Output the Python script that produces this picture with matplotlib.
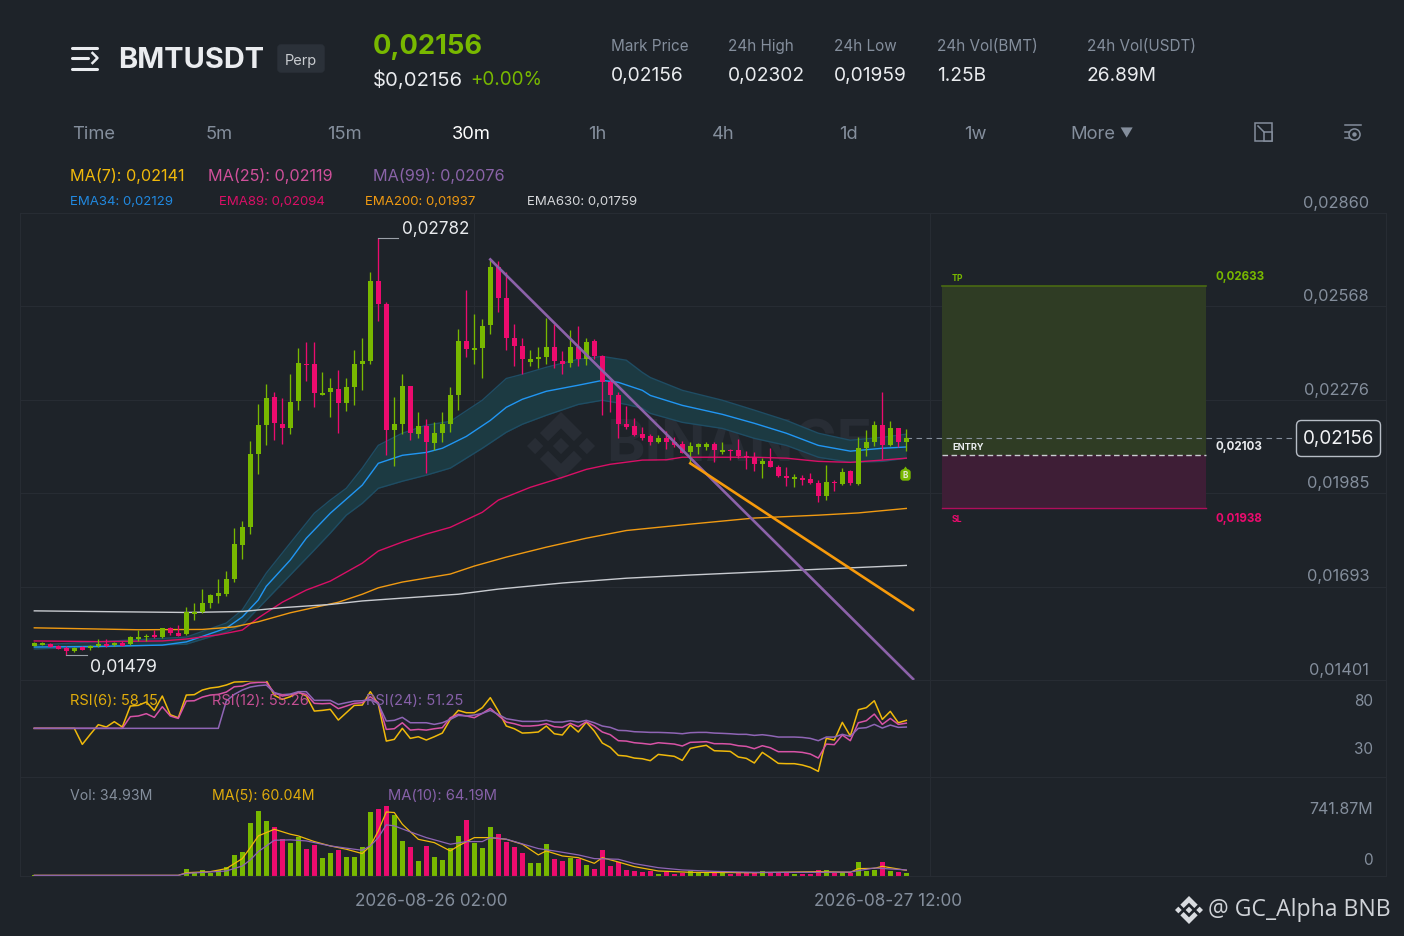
import matplotlib
matplotlib.use('Agg')
import matplotlib.pyplot as plt
import numpy as np
from matplotlib.patches import FancyBboxPatch, Polygon, Rectangle

plt.rcParams['font.family'] = ['Inter', 'DejaVu Sans']

# candles, in units of 0.00001
opens = [1508,1511,1514,1506,1502,1491,1503,1500,1507,1514,
         1509,1516,1512,1529,1534,1541,1535,1563,1549,1545,
         1608,1614,1643,1664,1671,1718,1824,1879,2108,2197,
         2284,2201,2189,2273,2389,2389,2291,2300,2311,2266,
         2315,2389,2399,2649,2577,2181,2200,2319,2169,2195,
         2141,2172,2200,2290,2461,2431,2439,2509,2690,2593,
         2471,2443,2396,2404,2409,2441,2399,2391,2441,2405,
         2459,2412,2332,2290,2200,2195,2169,2163,2143,2158,
         2146,2137,2113,2129,2129,2138,2113,2121,2119,2100,
         2097,2076,2085,2068,2038,2028,2033,2030,2016,1975,
         2021,2013,2055,2014,2125,2143,2197,2134,2187,2143]
closes = [1516,1518,1505,1499,1492,1501,1496,1507,1514,1507,
          1518,1508,1535,1535,1540,1534,1562,1547,1540,1612,
          1615,1641,1666,1674,1718,1825,1878,2107,2197,2283,
          2203,2189,2271,2390,2384,2298,2299,2312,2266,2315,
          2389,2399,2649,2577,2181,2200,2320,2172,2195,2143,
          2172,2200,2290,2459,2434,2437,2508,2690,2594,2471,
          2444,2403,2403,2409,2441,2399,2389,2440,2405,2458,
          2412,2332,2290,2200,2192,2165,2158,2143,2157,2146,
          2134,2111,2132,2137,2137,2121,2120,2116,2100,2094,
          2076,2084,2067,2038,2031,2034,2027,2016,1976,2021,
          2015,2052,2015,2125,2143,2197,2134,2187,2144,2156]
highs = [1520,1521,1517,1509,1507,1505,1506,1511,1528,1528,
         1521,1523,1539,1558,1544,1558,1564,1567,1572,1630,
         1642,1684,1669,1715,1743,1876,1898,2147,2263,2327,
         2301,2282,2358,2439,2456,2456,2362,2343,2369,2345,
         2432,2471,2675,2782,2582,2285,2358,2321,2237,2215,
         2206,2237,2317,2497,2620,2543,2530,2714,2711,2675,
         2514,2471,2431,2440,2533,2514,2429,2495,2506,2470,
         2465,2415,2337,2301,2256,2218,2190,2171,2166,2179,
         2160,2148,2144,2142,2146,2145,2145,2124,2154,2117,
         2112,2094,2125,2074,2067,2044,2041,2047,2025,2072,
         2026,2064,2057,2159,2181,2211,2300,2209,2188,2186]
lows = [1507,1509,1503,1497,1479,1488,1494,1496,1505,1505,
        1507,1506,1510,1523,1523,1533,1533,1541,1539,1541,
        1590,1611,1627,1642,1663,1708,1778,1856,2044,2134,
        2151,2137,2169,2243,2335,2254,2290,2223,2173,2241,
        2259,2306,2389,2524,2103,2069,2171,2150,2158,2049,
        2119,2143,2176,2243,2409,2387,2343,2482,2550,2431,
        2381,2357,2382,2375,2387,2377,2357,2378,2383,2384,
        2405,2228,2238,2156,2186,2162,2152,2134,2141,2123,
        2129,2109,2077,2106,2121,2081,2106,2088,2096,2059,
        2053,2032,2065,2035,2007,2004,2010,2014,1957,1963,
        1991,2009,2011,2011,2102,2133,2090,2131,2129,2116]

# moving averages, read at the candles named in the *_idx lists
ema34_idx = [0,8,16,19,24,26,28,29,32,34,37,39,41,43,46,49,51,54,57,59,61,64,68,71,73,76,77,81,86,90,94,98,102,106,109]
ema34 = [1504,1506,1510,1520,1563,1598,1651,1694,1776,1844,1922,1966,2010,2078,2103,2112,2125,2162,2212,2253,2278,2303,2322,2337,2331,2306,2290,2259,2231,2203,2172,2134,2116,2125,2129]
band_idx = [0,19,24,26,29,32,35,37,39,41,43,46,49,52,56,59,61,64,68,71,74,76,77,81,86,90,94,98,102,106,109]
band_upper = [1510,1535,1579,1620,1735,1829,1922,1963,2000,2063,2134,2172,2197,2209,2275,2343,2356,2378,2403,2412,2400,2362,2346,2306,2275,2244,2212,2172,2150,2159,2169]
band_lower = [1498,1513,1551,1573,1651,1729,1807,1860,1916,1953,2000,2022,2041,2063,2125,2175,2200,2228,2262,2275,2262,2250,2234,2206,2187,2156,2134,2097,2081,2084,2094]
ema89_idx = [0,8,16,19,23,26,28,31,34,37,39,41,43,46,49,52,56,58,62,66,69,72,76,79,81,84,88,90,94,98,102,106,109]
ema89 = [1523,1521,1523,1529,1542,1557,1595,1644,1682,1710,1738,1766,1804,1832,1857,1878,1925,1963,2003,2034,2059,2075,2088,2089,2097,2097,2097,2097,2094,2084,2081,2088,2094]
ema200_idx = [0,13,21,25,28,32,38,41,43,46,52,55,59,64,69,74,82,90,98,103,109]
ema200 = [1564,1558,1559,1567,1583,1611,1644,1669,1689,1707,1732,1757,1785,1816,1844,1868,1888,1907,1916,1923,1937]
ema630_idx = [0,11,19,26,31,37,41,53,58,66,74,82,90,98,109]
ema630 = [1617,1614,1612,1615,1627,1637,1648,1669,1685,1704,1719,1729,1738,1747,1759]

# drawn on the chart: (candle, price) ends
trend_purple_x = [57, 109.85]
trend_purple_y = [2715, 1404]
trend_orange_x = [82, 109.85]
trend_orange_y = [2078, 1620]

tp_price, entry_price, sl_price = 2633, 2103, 1938
last_price = 2156
box_x = [113.5, 146.5]

price_ticks = [2860, 2568, 2276, 1985, 1693, 1401]
price_labels = ['0,02860', '0,02568', '0,02276', '0,01985', '0,01693', '0,01401']

rsi6 = [49.9,49.9,49.9,49.9,49.9,49.9,33.3,43.7,53.7,51.3,56.8,51.3,73.0,73.7,77.2,68.5,83.4,64.0,60.9,84.4,
        84.8,89.6,91.7,92.7,94.8,97.9,98.2,99.3,99.6,99.6,84.1,79.9,82.7,87.5,83.4,67.8,68.5,69.6,58.5,66.1,
        73.7,74.0,87.9,74.7,36.7,38.5,49.9,39.5,41.2,37.8,41.2,45.0,59.2,68.5,66.1,66.1,71.3,81.7,67.8,52.3,
        49.5,45.0,45.4,46.1,52.3,44.3,43.0,53.3,46.1,56.4,47.1,34.7,30.2,21.9,21.2,19.1,18.4,16.4,22.9,21.9,
        20.9,16.7,29.1,30.9,32.3,26.7,26.4,26.0,20.2,18.8,14.0,25.0,19.5,13.6,13.3,13.3,11.9,9.5,5.3,39.5,
        37.8,56.1,41.9,69.2,71.3,78.5,59.2,67.5,55.7,58.15]
rsi12 = [49.9,49.9,49.9,49.9,49.9,49.9,49.9,49.9,49.9,49.9,49.9,49.9,62.0,62.7,65.1,61.3,72.3,62.7,60.2,78.2,
         78.5,82.3,84.4,85.1,87.5,93.0,93.7,96.8,97.5,97.5,86.8,83.4,84.8,86.8,85.1,75.8,75.4,75.8,70.3,73.0,
         75.8,76.5,82.7,76.5,48.8,49.5,55.7,48.1,48.8,48.1,49.5,50.6,60.9,64.4,62.7,60.9,65.4,70.6,63.3,56.4,
         54.7,52.3,52.3,53.0,54.7,51.6,50.9,55.1,51.6,56.8,52.3,46.1,43.3,37.1,36.7,35.0,34.3,33.3,35.0,34.3,
         33.6,31.6,35.4,35.7,36.1,34.0,34.0,33.6,31.9,31.2,28.8,31.9,29.8,25.7,25.7,25.7,25.0,23.3,19.1,33.6,
         33.0,43.0,37.1,55.7,57.8,64.7,54.0,60.2,54.0,55.26]
rsi24 = [49.9,49.9,49.9,49.9,49.9,49.9,49.9,49.9,49.9,49.9,49.9,49.9,49.9,49.9,49.9,49.9,49.9,49.9,49.9,49.9,
         49.9,49.9,49.9,49.9,78.2,85.1,89.6,92.7,94.1,94.8,86.8,84.8,85.4,87.9,87.9,78.9,78.9,78.9,74.7,76.5,
         78.2,78.5,79.9,75.4,57.5,58.2,61.3,55.7,55.7,55.7,54.0,55.7,59.2,63.3,62.7,63.7,65.4,68.5,64.4,59.9,
         58.5,57.1,57.1,57.1,58.2,56.4,56.4,57.8,56.4,58.2,55.7,52.3,50.9,47.8,47.5,46.4,46.1,45.7,45.7,45.4,
         45.0,44.3,45.4,45.7,45.7,45.0,44.7,44.3,43.7,43.7,42.6,43.3,42.3,40.9,40.9,40.9,40.5,39.5,37.1,40.9,
         40.9,43.7,41.6,49.9,50.6,54.0,50.2,53.3,50.9,51.25]

# volume in millions
volumes = [11,7,5,6,7,5,4,6,8,7,6,5,9,6,6,7,8,6,5,
           71,35,60,28,64,95,219,258,565,692,579,519,396,353,417,283,329,191,244,272,198,198,311,678,707,742,
           643,367,307,159,314,201,170,300,424,594,346,293,519,442,364,304,244,134,141,343,184,159,194,184,113,
           71,279,106,152,64,49,46,53,21,46,18,32,49,35,32,42,35,25,28,28,35,53,35,32,39,25,18,18,67,60,35,42,
           35,145,57,67,148,53,46,34.93]
vol_ma5_idx = [0,18,19,22,24,26,27,28,30,32,33,35,37,39,41,42,43,44,45,46,48,50,52,53,55,57,59,61,63,64,66,68,70,71,73,75,78,82,90,98,102,103,105,106,109]
vol_ma5 = [7,7,35,46,78,184,300,424,494,442,424,364,318,283,237,318,477,677,671,548,388,353,265,318,406,406,388,336,223,265,212,194,134,194,148,99,53,39,35,46,39,78,81,102,60.04]
vol_ma10_idx = [0,18,19,24,26,27,28,30,32,34,37,40,41,42,43,44,45,47,49,52,54,56,57,59,63,65,68,70,73,75,78,81,85,90,98,102,105,109]
vol_ma10 = [7,7,28,53,106,170,258,378,382,371,318,283,272,318,406,541,530,466,406,336,364,364,406,389,290,265,223,184,177,131,88,64,49,39,39,42,85,64.19]

BG = '#1e2329'
GRID = '#272c33'
GREEN = '#78b800'
RED = '#ec0b6e'
GREY = '#848e9c'
LIGHT = '#eaecef'

W, H = 1404, 936
fig = plt.figure(figsize=(W / 100, H / 100), dpi=100, facecolor=BG)


def add_px_axes(left, top, right, bottom):
    return fig.add_axes([left / W, 1 - bottom / H, (right - left) / W, (bottom - top) / H])


# pixel overlays: one under the chart for the watermark, one on top for the page text
under = fig.add_axes([0, 0, 1, 1], zorder=0)
over = fig.add_axes([0, 0, 1, 1], zorder=5)
for a in (under, over):
    a.set_xlim(0, W)
    a.set_ylim(H, 0)
    a.axis('off')
    a.patch.set_alpha(0)


def binance_logo(a, cx, cy, r, color):
    top = np.array([(0,-1),(.62,-.38),(.38,-.14),(0,-.52),(-.38,-.14),(-.62,-.38)])
    small = np.array([(0,-.24),(.24,0),(0,.24),(-.24,0)])
    for pts in (top, top * [1, -1], small, small + [.76, 0], small + [-.76, 0]):
        a.add_patch(Polygon(pts * r + [cx, cy], closed=True, fc=color, ec='none'))


binance_logo(under, 561, 446, 34, '#282d35')
under.text(606, 447, 'BINANCE', color='#282d35', fontsize=42, fontweight='bold', va='center', ha='left')

xlim = (-1.7875, 168.96)
x = np.arange(len(opens))
o = np.array(opens) / 1e5
c = np.array(closes) / 1e5
hi = np.array(highs) / 1e5
lo = np.array(lows) / 1e5
colors = [GREEN if cc >= oo else RED for oo, cc in zip(o, c)]

ax = add_px_axes(20, 213, 1386, 680)
rsi_ax = add_px_axes(20, 680, 1386, 776.5)
vol_ax = add_px_axes(20, 776.5, 1386, 876)
for a in (ax, rsi_ax, vol_ax):
    a.set_zorder(2)
    a.patch.set_alpha(0)
    a.set_xlim(*xlim)
    a.set_xticks([55, 112])
    a.grid(True, color=GRID, lw=0.8)
    a.set_axisbelow(True)
    a.tick_params(length=0, labelbottom=False, labelleft=False)
    for s in a.spines.values():
        s.set_color(GRID)
        s.set_linewidth(0.8)

# main price panel
ax.set_ylim(1401 / 1e5, 2860 / 1e5)
ax.set_yticks(np.array(price_ticks) / 1e5)
for p, lab in zip(price_ticks, price_labels):
    ax.annotate(lab, xy=(1, p / 1e5), xycoords=('axes fraction', 'data'), xytext=(-12.2, 7),
                textcoords='offset points', ha='right', va='center', color=GREY, fontsize=11.8,
                annotation_clip=False)

ax.add_patch(Rectangle((box_x[0], entry_price / 1e5), box_x[1] - box_x[0], (tp_price - entry_price) / 1e5,
                       fc='#2f3c24', ec='none', zorder=1))
ax.add_patch(Rectangle((box_x[0], sl_price / 1e5), box_x[1] - box_x[0], (entry_price - sl_price) / 1e5,
                       fc='#3e1e36', ec='none', zorder=1))
ax.plot(box_x, [tp_price / 1e5] * 2, color='#4a6a12', lw=1.2, zorder=2)
ax.plot(box_x, [sl_price / 1e5] * 2, color='#b00e5c', lw=1.0, zorder=2)
ax.plot(box_x, [entry_price / 1e5] * 2, color='#c9ccd0', lw=1.0, ls=(0, (4, 2.5)), zorder=2)
ax.plot([109, 157.5], [last_price / 1e5] * 2, color='#848e9c', lw=0.8, ls=(0, (5, 4)), zorder=2)

ax.fill_between(band_idx, np.array(band_lower) / 1e5, np.array(band_upper) / 1e5, color='#1c3a42', lw=0, zorder=2)
ax.plot(band_idx, np.array(band_upper) / 1e5, color='#1f4d64', lw=1.0, zorder=2)
ax.plot(band_idx, np.array(band_lower) / 1e5, color='#1f4d64', lw=1.0, zorder=2)
ax.plot(ema34_idx, np.array(ema34) / 1e5, color='#2196f3', lw=1.0, zorder=3)
ax.plot(ema89_idx, np.array(ema89) / 1e5, color='#d90f66', lw=1.0, zorder=3)
ax.plot(ema200_idx, np.array(ema200) / 1e5, color='#f09a12', lw=1.0, zorder=3)
ax.plot(ema630_idx, np.array(ema630) / 1e5, color='#c8cbd0', lw=1.0, zorder=3)

ax.vlines(x, lo, hi, colors=colors, lw=0.95, zorder=4)
body_h = np.maximum(np.abs(c - o), 0.00003)
ax.bar(x, body_h, bottom=np.minimum(o, c), width=0.62, color=colors, lw=0, zorder=4)

ax.plot(trend_purple_x, np.array(trend_purple_y) / 1e5, color='#8c62a9', lw=1.9, zorder=5)
ax.plot(trend_orange_x, np.array(trend_orange_y) / 1e5, color='#f79a0b', lw=1.9, zorder=5)

# RSI panel
rsi_ax.set_ylim(0, 100)
rsi_ax.set_yticks([])
rsi_ax.plot(x, rsi6, color='#f0b90b', lw=1.1)
rsi_ax.plot(x, rsi12, color='#d853a6', lw=1.1)
rsi_ax.plot(x, rsi24, color='#8f65b5', lw=1.1)

# volume panel
vol_ax.set_ylim(0, 1052)
vol_ax.set_yticks([])
vol_ax.bar(x, volumes, width=0.62, color=colors, lw=0)
vol_ax.plot(vol_ma5_idx, vol_ma5, color='#f0b90b', lw=0.9)
vol_ax.plot(vol_ma10_idx, vol_ma10, color='#8f65b5', lw=0.9)


def t(px, py, s, color=LIGHT, size=12, weight='normal', ha='left', family=None):
    kw = {'family': family} if family else {}
    over.text(px, py + 1.8, s, color=color, fontsize=size, fontweight=weight, ha=ha, va='center', **kw)


# header
for yy, x1 in ((48, 97), (58, 88), (69, 97)):
    over.plot([72, x1], [yy, yy], color=LIGHT, lw=2.2, solid_capstyle='round')
over.plot([92.5, 97.5, 92.5], [53, 58, 63], color=LIGHT, lw=1.8)
t(118, 59, 'BMTUSDT', size=20.9, weight='bold')
over.add_patch(FancyBboxPatch((278, 45), 46, 27, boxstyle='round,pad=0,rounding_size=3', fc='#2b3139', ec='#2b3139', lw=1))
t(301, 59, 'Perp', size=10.5, ha='center', color='#c9ccd0')
t(373, 45, '0,02156', color=GREEN, size=19.7, weight='bold')
t(373, 78, '$0,02156', size=14.6)
t(470.5, 78, '+0.00%', color=GREEN, size=13.6)

stat_x = [611, 728, 834, 937, 1087]
stat_names = ['Mark Price', '24h High', '24h Low', '24h Vol(BMT)', '24h Vol(USDT)']
stat_vals = ['0,02156', '0,02302', '0,01959', '1.25B', '26.89M']
for sx, sn, sv in zip(stat_x, stat_names, stat_vals):
    t(sx, 45, sn, color=GREY, size=11.0)
    t(sx, 74, sv, size=13.8)

tf_x = [72, 206, 327, 452, 588, 712, 839, 964, 1070]
tf_names = ['Time', '5m', '15m', '30m', '1h', '4h', '1d', '1w', 'More']
for tx, tn in zip(tf_x, tf_names):
    t(tx, 133, tn, color='#ffffff' if tn == '30m' else GREY, size=13.2)
t(1119, 133, '▼', color=GREY, size=9.5)

# toolbar icons
over.add_patch(Rectangle((1255, 123), 17, 18, fc='none', ec=GREY, lw=1.1))
over.add_patch(Rectangle((1264, 132), 8, 9, fc=BG, ec=GREY, lw=1.1))
over.plot([1258, 1264], [126, 132], color=GREY, lw=1.1)
over.plot([1345, 1361], [125, 125], color=GREY, lw=1.1)
over.plot([1345, 1350], [132, 132], color=GREY, lw=1.1)
over.plot([1345, 1350], [138, 138], color=GREY, lw=1.1)
over.plot([1354], [134], 'o', ms=8, mfc=BG, mec=GREY, mew=1.1)
over.plot([1354], [134], 'o', ms=2.2, color=GREY)

# indicator legends
legend1 = [(70, 'MA(7): 0,02141', '#f0b90b'), (208, 'MA(25): 0,02119', '#d0509a'), (373, 'MA(99): 0,02076', '#8a63a8')]
for lx, s, col in legend1:
    t(lx, 174, s, color=col, size=11.7)
legend2 = [(70, 'EMA34: 0,02129', '#2189e0'), (219, 'EMA89: 0,02094', '#d90f66'),
           (365, 'EMA200: 0,01937', '#f09a12'), (527, 'EMA630: 0,01759', '#d5d7da')]
for lx, s, col in legend2:
    t(lx, 200, s, color=col, size=9.5)

# high and low markers
over.plot([378, 398], [238, 238], color='#9aa0a8', lw=0.8)
t(402, 228, '0,02782', size=12.3)
over.plot([66, 87], [655, 655], color='#9aa0a8', lw=0.8)
t(90, 666, '0,01479', size=12.8)

# position box labels
t(952, 277, 'TP', color=GREEN, size=6.2, weight='bold')
t(1215, 275, '0,02633', color=GREEN, size=8.3, weight='bold')
t(952, 446, 'ENTRY', color=LIGHT, size=6.6, weight='bold')
t(1215, 445, '0,02103', color=LIGHT, size=8.3, weight='bold')
t(952, 518, 'SL', color=RED, size=6.2, weight='bold')
t(1215, 517, '0,01938', color=RED, size=8.3, weight='bold')

# buy marker
over.add_patch(FancyBboxPatch((901, 470), 9, 10, boxstyle='round,pad=0,rounding_size=2.5', fc=GREEN, ec=GREEN, lw=1))
over.add_patch(Polygon([(903, 470), (908, 470), (905.5, 466.5)], closed=True, fc=GREEN, ec='none'))
t(905.5, 474, 'B', color='#dfe8c8', size=6, weight='bold', ha='center')

# last price tag
over.add_patch(FancyBboxPatch((1296.5, 420.5), 84, 36, boxstyle='round,pad=0,rounding_size=5', fc=BG, ec='#b7bdc6', lw=1))
t(1338.5, 437, '0,02156', size=13.6, ha='center', color='#f2f3f5')

# lower panels text
t(70, 699, 'RSI(6): 58.15', color='#e0ac0c', size=10.6)
t(212, 699, 'RSI(12): 55.26', color='#c44f93', size=10.6)
t(366, 699, 'RSI(24): 51.25', color='#8660a8', size=10.6)
t(1373, 700, '80', color=GREY, size=11, ha='right')
t(1373, 748, '30', color=GREY, size=11, ha='right')
t(70, 794, 'Vol: 34.93M', color=GREY, size=10.2)
t(212, 794, 'MA(5): 60.04M', color='#e0ac0c', size=10.2)
t(388, 794, 'MA(10): 64.19M', color='#8660a8', size=10.6)
t(1373, 808, '741.87M', color=GREY, size=11.5, ha='right')
t(1373, 859, '0', color=GREY, size=11, ha='right')

t(431, 900, '2026-08-26 02:00', color=GREY, size=12.3, ha='center')
t(888, 900, '2026-08-27 12:00', color=GREY, size=12.3, ha='center')

# watermark bottom right
binance_logo(over, 1189, 910, 14, '#d9dce0')
t(1208, 908, '@ GC_Alpha BNB', color='#d0d3d8', size=16.6, family='Open Sans')

fig.savefig('out.png', dpi=100, facecolor=BG)
